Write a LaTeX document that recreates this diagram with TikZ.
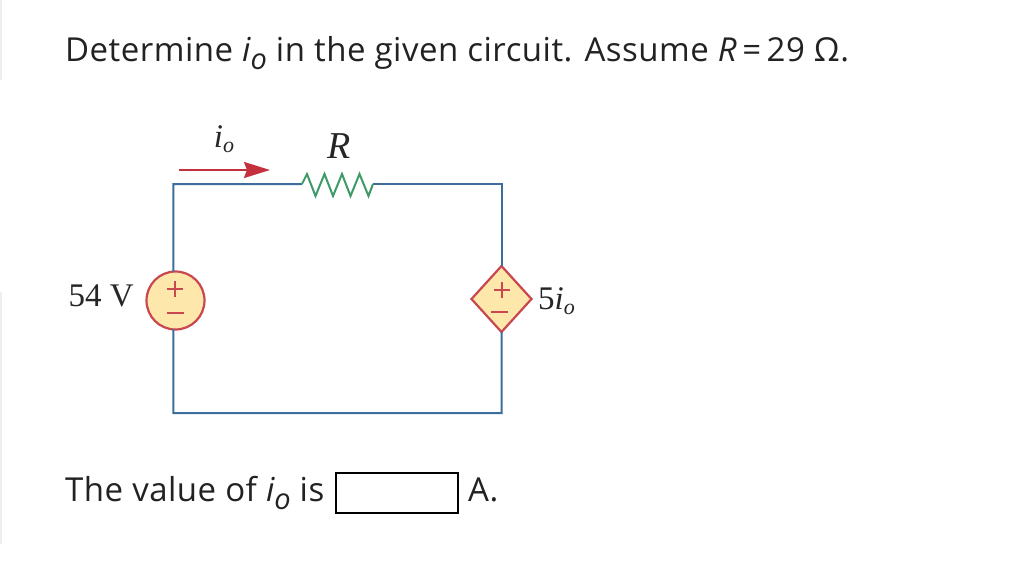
\documentclass[tikz,border=0pt]{standalone}
\usepackage{fontspec}
\setmainfont[LetterSpace=1.5]{Open Sans}
\newfontfamily\labelfont{Liberation Serif}
\usetikzlibrary{arrows.meta,shapes.geometric}
\definecolor{wireblue}{HTML}{3B6E9C}
\definecolor{srcred}{HTML}{C9474F}
\definecolor{srcfill}{HTML}{FDE7AB}
\definecolor{resgreen}{HTML}{3E9A68}
\definecolor{arrowred}{HTML}{C5303E}
\definecolor{inktext}{HTML}{222222}
\definecolor{edgegrey}{HTML}{EEEEEE}
\newcommand{\iosub}{{\itshape i\raisebox{-8pt}{\fontsize{29}{29}\selectfont o}}}
\newcommand{\iolab}{{\itshape i\raisebox{-5pt}{\fontsize{22}{22}\selectfont o}}}
\tikzset{
    wire/.style={draw=wireblue, line width=2pt},
    srcbody/.style={draw=srcred, fill=srcfill, line width=2.2pt, inner sep=0pt, outer sep=0pt},
    signline/.style={draw=srcred, line width=2.4pt},
    prose/.style={anchor=base west, inner sep=0pt, text=inktext, font=\fontsize{33}{33}\selectfont},
    circlabel/.style={inner sep=0pt, text=black!85, font=\labelfont\fontsize{33}{33}\selectfont},
}
\begin{document}
\begin{tikzpicture}[x=1pt, y=-1pt]
    \useasboundingbox (0,0) rectangle (1034,584);
    \fill[white] (0,0) rectangle (1034,584);
    \fill[edgegrey] (0,0) rectangle (2,80);
    \fill[edgegrey] (0,292) rectangle (2,544);

    \node[prose] (question) at (65,61) {Determine \iosub\ in the given circuit. Assume {\itshape R}\,=\,29 Ω.};

    \node[srcbody, circle, minimum size=58pt] (vsrc) at (175.5,300.5) {};
    \node[srcbody, diamond, minimum width=60pt, minimum height=66pt] (depsrc) at (501.5,299) {};
    \coordinate (rl) at (302,184);
    \coordinate (rr) at (373,184);
    \coordinate (tl) at (173.48,184);
    \coordinate (tr) at (501.5,184);
    \coordinate (bl) at (173.48,413);
    \coordinate (br) at (501.5,413);

    \draw[wire] (vsrc.94) -- (tl) -- (rl);
    \draw[wire] (rr) -- (tr) -- (depsrc.north);
    \draw[wire] (depsrc.south) -- (br) -- (bl) -- (vsrc.-94);

    \draw[draw=resgreen, line width=2pt] (rl) -- ++(5,-10)
        foreach \k in {1,2,3} { -- ++(8.5,22) -- ++(9,-22) } -- ++(9,22) -- (rr);

    \coordinate (arrowstart) at (179,170);
    \coordinate (arrowend) at (270,170);
    \draw[draw=arrowred, line width=2pt, -{Stealth[length=26pt, width=16pt, inset=3pt]}] (arrowstart) -- (arrowend);

    \draw[signline] (175,281) -- ++(0,16) (167,289) -- ++(16,0) (167,313) -- ++(17,0);
    \draw[signline] (502,282) -- ++(0,16) (494,290) -- ++(16,0) (491,312) -- ++(17,0);

    \node[circlabel] (iolabel) at (224,139) {\iolab};
    \node[circlabel, font=\labelfont\fontsize{38}{38}\selectfont\itshape] (rlabel) at (339,146) {R};
    \node[circlabel, anchor=east] (vlabel) at (134,296) {54 V};
    \node[circlabel, anchor=west] (glabel) at (538,301) {5\iolab};

    \node[prose] (answer) at (65,501) {The value of \iosub\ is};
    \node[draw=black, line width=2pt, minimum width=122pt, minimum height=40pt, inner sep=0pt] (ansbox) at (397,493) {};
    \node[prose] (unit) at (468,501) {A.};
\end{tikzpicture}
\end{document}
